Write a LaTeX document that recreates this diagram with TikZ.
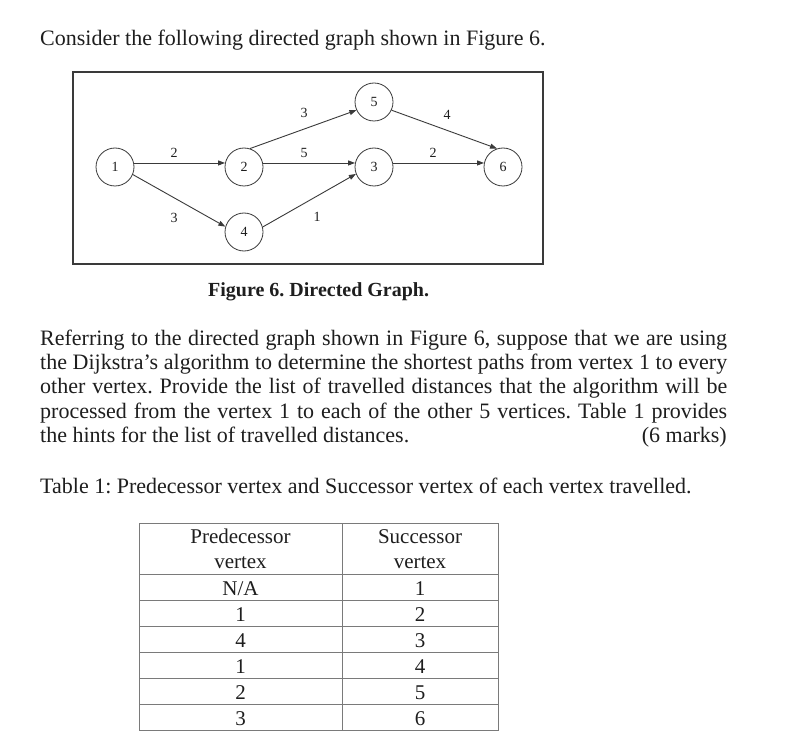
\documentclass[tikz,border=0pt]{standalone}
\usepackage{fontspec}
\setmainfont{Liberation Serif}
\frenchspacing
\usetikzlibrary{arrows.meta}
\definecolor{ink}{HTML}{1E1E1E}
\definecolor{edgec}{HTML}{3A3A3A}
\definecolor{gridc}{HTML}{7A7A7A}
\tikzset{
  txt/.style={anchor=base west,inner sep=0pt,text=ink,font=\fontsize{22}{24}\selectfont},
  vtx/.style={circle,draw=edgec,line width=0.8pt,minimum size=38pt,inner sep=0pt,text=ink,font=\fontsize{14}{15}\selectfont},
  wlab/.style={inner sep=0pt,text=ink,font=\fontsize{14}{15}\selectfont},
  edg/.style={draw=edgec,line width=0.9pt,-{Triangle[length=7pt,width=5pt]}},
  cell/.style={anchor=base,inner sep=0pt,text=ink,font=\fontsize{21}{23}\selectfont},
}
\begin{document}
\begin{tikzpicture}[x=1pt,y=-1pt]
\useasboundingbox (0,0) rectangle (800,751);
\fill[white] (0,0) rectangle (800,751);

\node[txt] (intro) at (40,46) {Consider the following directed graph shown in Figure 6.};

% frame
\draw[edgec,line width=1.5pt] (73,72) rectangle (543,264);

% vertices
\node[vtx] (n1) at (115,167) {1};
\node[vtx] (n2) at (244,167) {2};
\node[vtx] (n4) at (244,232) {4};
\node[vtx] (n5) at (374,102) {5};
\node[vtx] (n3) at (374,167) {3};
\node[vtx] (n6) at (503,167) {6};

% edges
\draw[edg] (n1.12) -- (n2.168);
\draw[edg] (n2.12) -- (n3.168);
\draw[edg] (n3.12) -- (n6.168);
\draw[edg] (n1.-23) -- (n4.164);
\draw[edg] (n4.15) -- (n3.-159);
\draw[edg] (n2.72) -- (n5.205);
\draw[edg] (n5.-25) -- (n6.108);

% weights
\node[wlab] (w12) at (174,153) {2};
\node[wlab] (w14) at (174,218) {3};
\node[wlab] (w25) at (304,113) {3};
\node[wlab] (w23) at (304,153) {5};
\node[wlab] (w43) at (317,217) {1};
\node[wlab] (w56) at (447,115) {4};
\node[wlab] (w36) at (433,153) {2};

\node[txt,font=\fontsize{20}{22}\selectfont\bfseries] (cap) at (208,296) {Figure 6. Directed Graph.};

% paragraph
\node[txt] (p1) at (40,345.5) {\makebox[687pt][s]{Referring to the directed graph shown in Figure 6, suppose that we are using}};
\node[txt] (p2) at (40,369.7) {\makebox[687pt][s]{the Dijkstra’s algorithm to determine the shortest paths from vertex 1 to every}};
\node[txt] (p3) at (40,393.9) {\makebox[687pt][s]{other vertex. Provide the list of travelled distances that the algorithm will be}};
\node[txt] (p4) at (40,418.1) {\makebox[687pt][s]{processed from the vertex 1 to each of the other 5 vertices. Table 1 provides}};
\node[txt] (p5) at (40,442.3) {the hints for the list of travelled distances.};
\node[txt,anchor=base east] (marks) at (727,442.3) {(6 marks)};

\node[txt] (tcap) at (40,493) {Table 1: Predecessor vertex and Successor vertex of each vertex travelled.};

% table
\draw[gridc,line width=1pt] (139,523) rectangle (498,730);
\draw[gridc,line width=1pt] (342,523) -- (342,730);
\foreach \yy in {574,600,626,652,678,704} {
  \draw[gridc,line width=1pt] (139,\yy) -- (498,\yy);
}
\node[cell] (h1a) at (240.5,543) {Predecessor};
\node[cell] (h1b) at (240.5,568) {vertex};
\node[cell] (h2a) at (420,543) {Successor};
\node[cell] (h2b) at (420,568) {vertex};

\node[cell] (a1) at (240.5,595) {N/A};
\node[cell] (a2) at (240.5,621) {1};
\node[cell] (a3) at (240.5,647) {4};
\node[cell] (a4) at (240.5,673) {1};
\node[cell] (a5) at (240.5,699) {2};
\node[cell] (a6) at (240.5,725) {3};

\node[cell] (b1) at (420,595) {1};
\node[cell] (b2) at (420,621) {2};
\node[cell] (b3) at (420,647) {3};
\node[cell] (b4) at (420,673) {4};
\node[cell] (b5) at (420,699) {5};
\node[cell] (b6) at (420,725) {6};
\end{tikzpicture}
\end{document}
